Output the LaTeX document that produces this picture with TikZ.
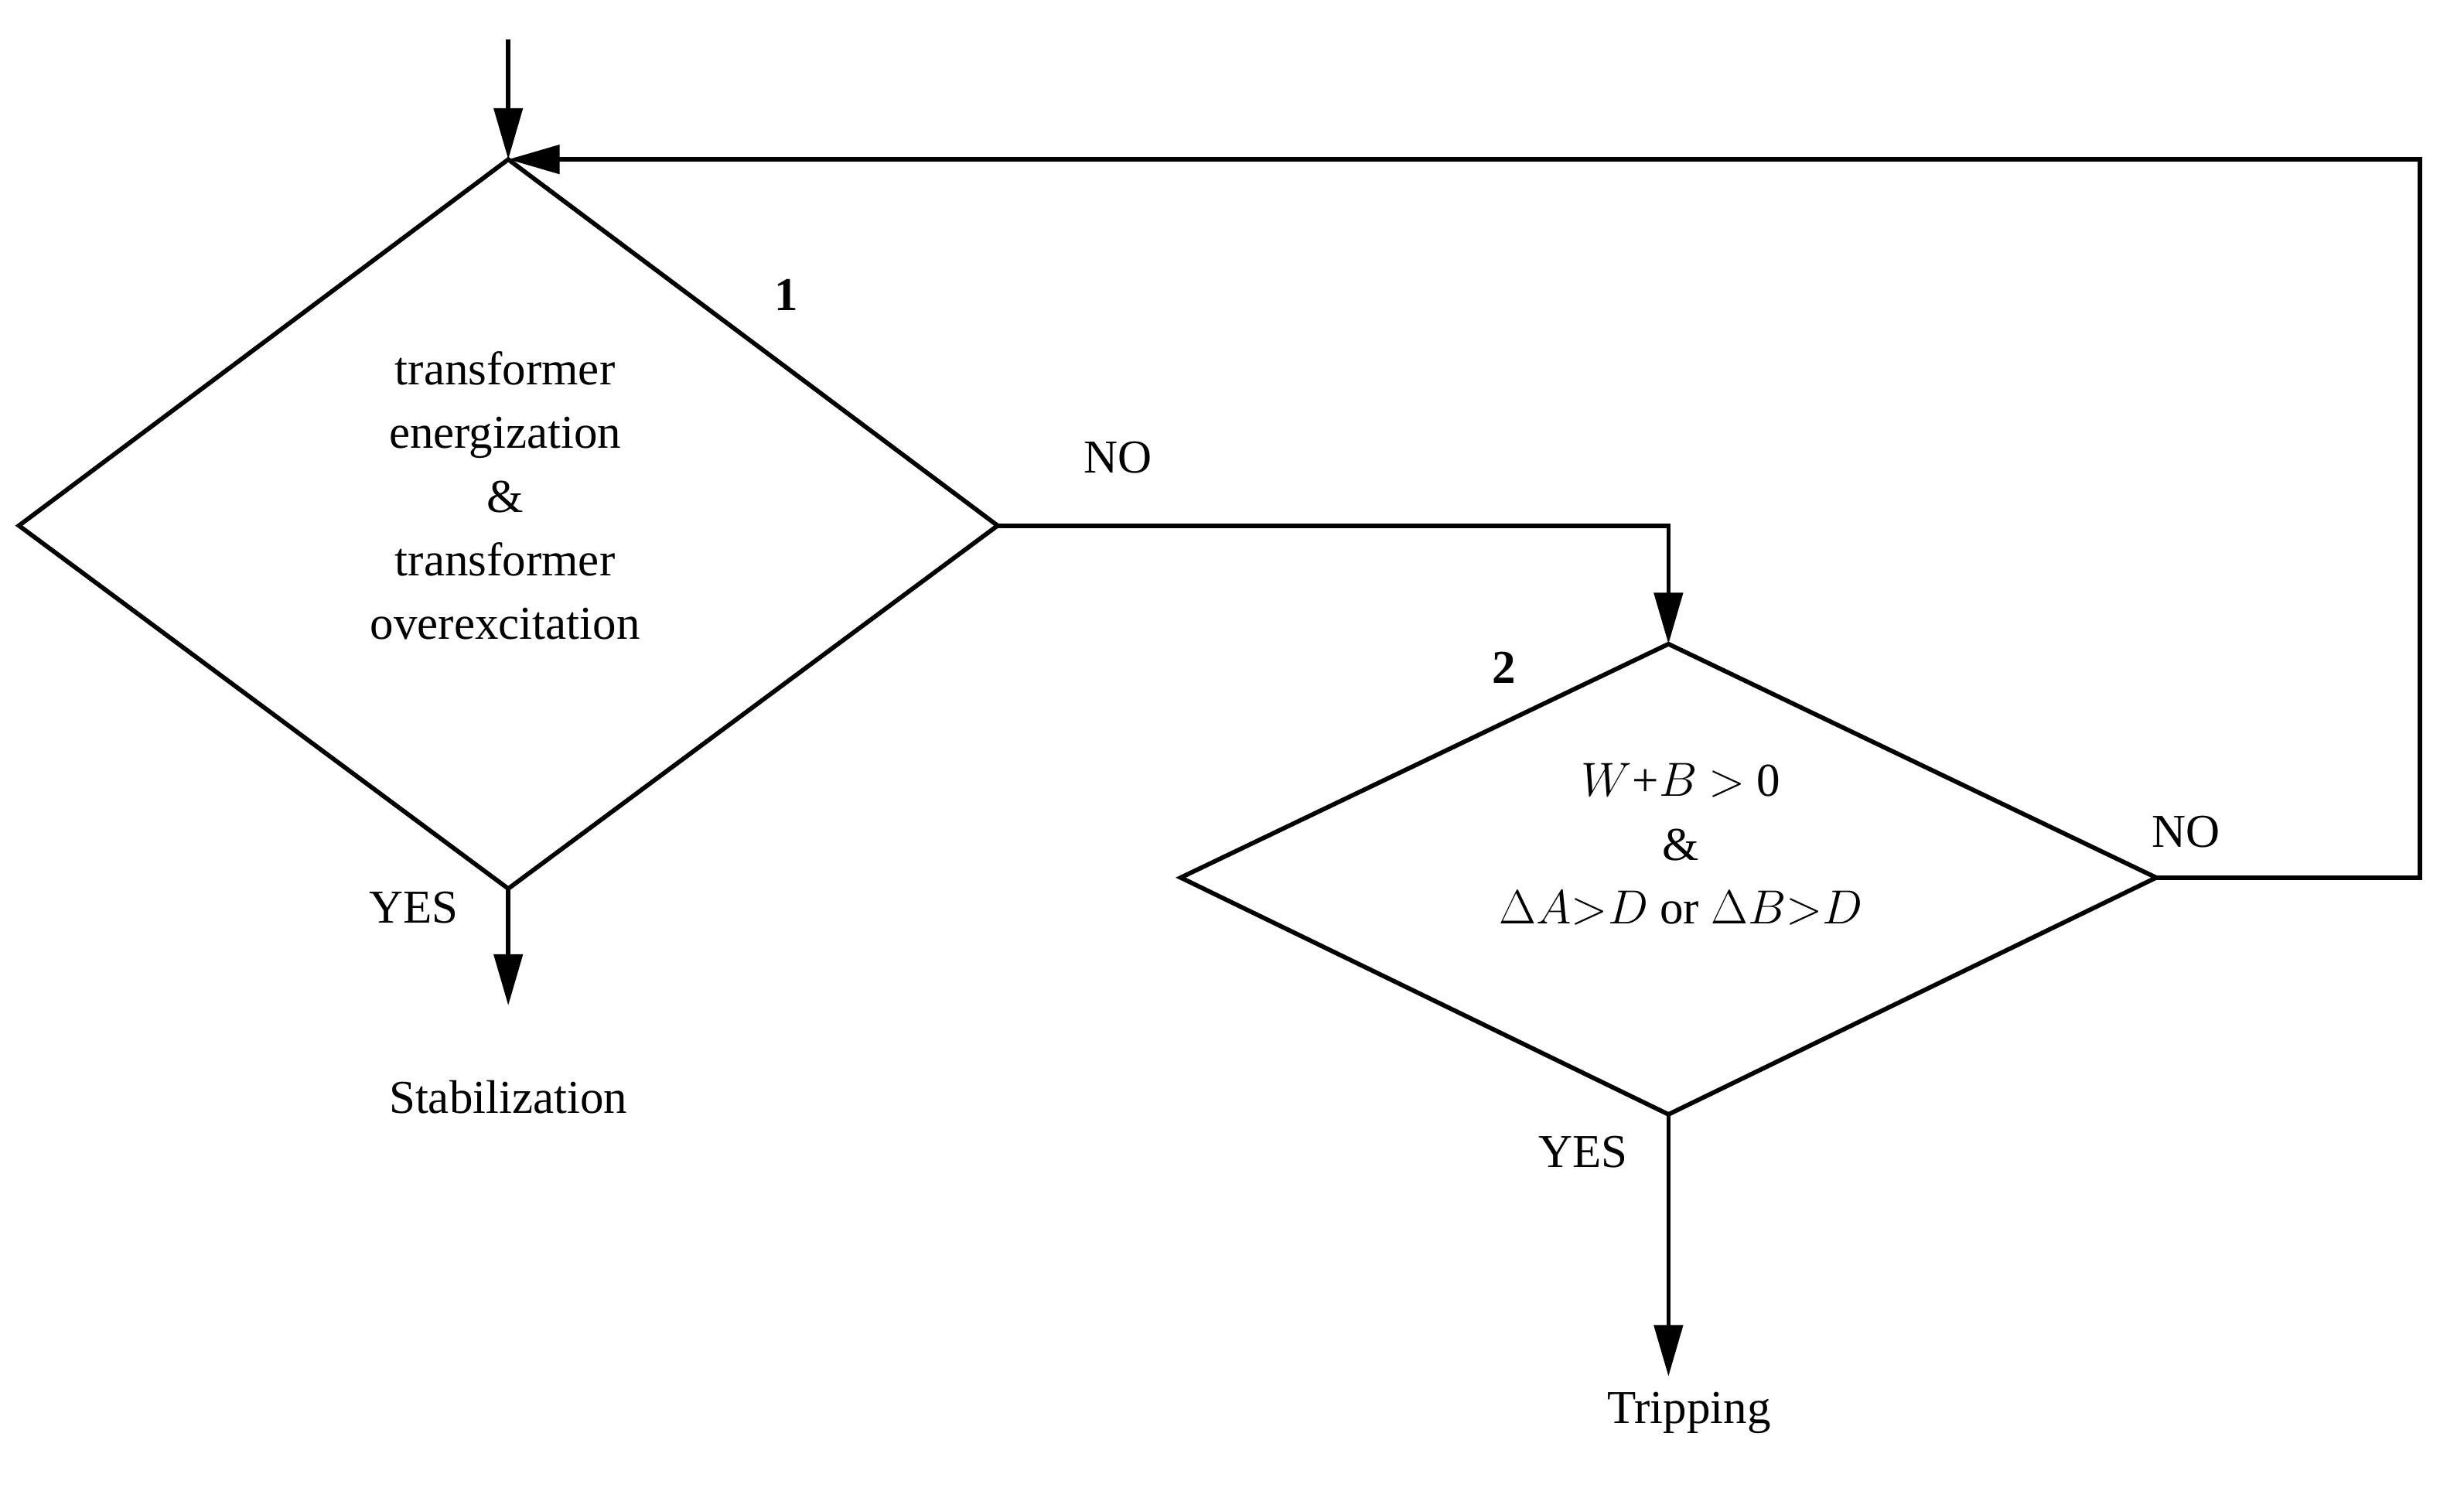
\documentclass[tikz,border=0pt]{standalone}
\usepackage{fontspec}
\setmainfont{Liberation Serif}
\usetikzlibrary{arrows.meta}
\begin{document}
\begin{tikzpicture}[x=0.02cm,y=-0.02cm,
  ln/.style={line width=1.6pt},
  arr/.style={ln,-{Triangle[length=0.65cm,width=0.36cm]}},
  lbl/.style={font=\fontsize{17}{21}\selectfont,inner sep=0pt},
  txt/.style={font=\fontsize{17}{23}\selectfont,align=center,inner sep=0pt}]
\useasboundingbox (0,0) rectangle (1561,949);
% diamond 1
\coordinate (t1) at (322,101); \coordinate (l1) at (12,333);
\coordinate (r1) at (632,333); \coordinate (b1) at (322,563);
\draw[ln,line join=miter] (t1)--(r1)--(b1)--(l1)--cycle;
% diamond 2
\coordinate (t2) at (1057,408); \coordinate (l2) at (748,556);
\coordinate (r2) at (1366,556); \coordinate (b2) at (1057,706);
\draw[ln,line join=miter] (t2)--(r2)--(b2)--(l2)--cycle;
\coordinate (in) at (322,25);
\coordinate (c1) at (1057,333);
\coordinate (c2) at (1533,556);
\coordinate (c3) at (1533,101);
\coordinate (s) at (322,637);
\coordinate (tr) at (1057,872);
\draw[arr] (in)--(t1);
\draw[arr] (r1)--(c1)--(t2);
\draw[arr] (r2)--(c2)--(c3)--(t1);
\draw[arr] (b1)--(s);
\draw[arr] (b2)--(tr);
\node[txt] (d1) at (320,314) {transformer\\energization\\\&\\transformer\\overexcitation};
\node[txt] (d2) at (1065,535) {$W$+$B$ $>$ 0\\\&\\$\Delta A{>}D$ or $\Delta B{>}D$};
\node[lbl,font=\fontsize{17}{21}\selectfont\bfseries] (n1) at (498,187) {1};
\node[lbl,font=\fontsize{17}{21}\selectfont\bfseries] (n2) at (953,423) {2};
\node[lbl] (no1) at (708,290) {NO};
\node[lbl] (no2) at (1385,527) {NO};
\node[lbl] (y1) at (262,575) {YES};
\node[lbl] (y2) at (1003,730) {YES};
\node[lbl] (st) at (322,695) {Stabilization};
\node[lbl] (tp) at (1070,895) {Tripping};
\end{tikzpicture}
\end{document}
